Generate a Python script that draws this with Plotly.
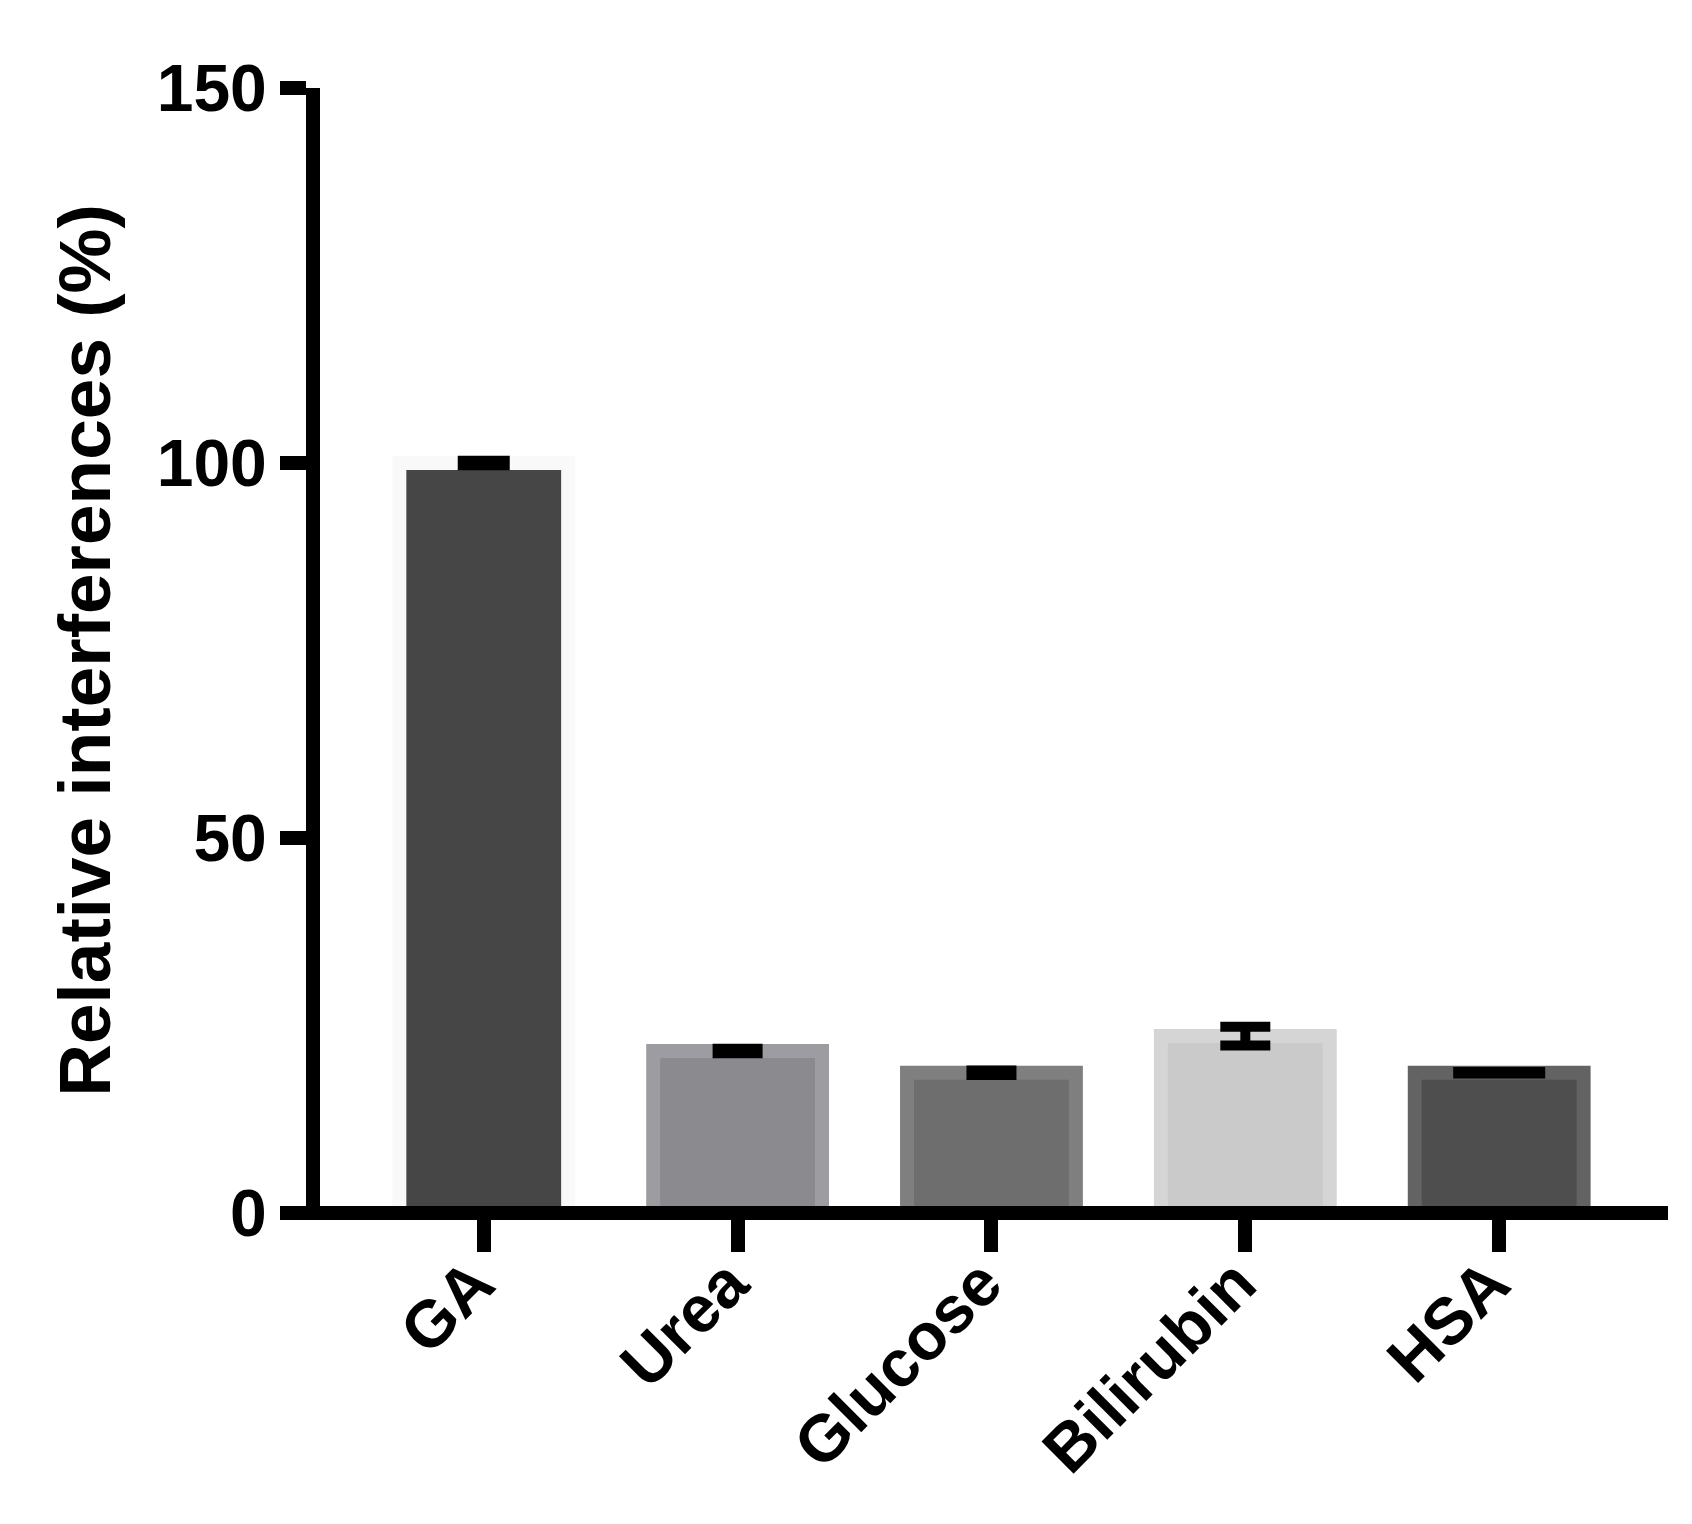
import plotly.graph_objects as go

categories = ["GA", "Urea", "Glucose", "Bilirubin", "HSA"]
values = [100.0, 21.6, 18.7, 23.6, 18.7]
errors = [0.3, 0.3, 0.3, 1.25, 0.1]
fill_colors = ["#464646", "#8b8a8f", "#6e6e6e", "#cacaca", "#4e4e4e"]
edge_colors = ["#f9f9f9", "#9d9ca1", "#7f7f7f", "#d5d5d5", "#636363"]
cap_half_widths = [26, 25, 25, 25, 46]
y_ticks = [0, 50, 100, 150]

FONT = "Liberation Sans, Arial, Helvetica, sans-serif"

fig = go.Figure()
for cat, v, e, fc, ec, cw in zip(categories, values, errors, fill_colors, edge_colors, cap_half_widths):
    fig.add_trace(go.Bar(
        x=[cat], y=[v],
        width=0.665,
        marker=dict(color=fc, line=dict(color=ec, width=14)),
        error_y=dict(type="data", array=[e], visible=True, color="black",
                     thickness=10, width=cw),
        showlegend=False,
    ))

# x-axis baseline centred on the plot bottom (y = 0), like the original
fig.add_shape(type="line", xref="paper", yref="paper", x0=-0.0105, x1=1, y0=0, y1=0,
              line=dict(color="black", width=14), layer="above")

fig.update_layout(
    width=1692, height=1524,
    barmode="overlay",
    plot_bgcolor="white", paper_bgcolor="white",
    margin=dict(l=312, r=32, t=80, b=319, autoexpand=False),
    font=dict(family=FONT, color="black"),
)
fig.update_xaxes(
    type="category", categoryorder="array", categoryarray=categories,
    range=[-0.645, 4.665],
    showline=False,
    ticks="outside", ticklen=38, tickwidth=14, tickcolor="black",
    tickangle=-45,
    ticklabelstandoff=-34, ticklabelshift=-9,
    tickfont=dict(family=FONT, size=66, weight="bold", color="black"),
    showgrid=False, zeroline=False,
)
fig.update_yaxes(
    range=[0, 150], tickvals=y_ticks, ticktext=[str(t) for t in y_ticks],
    showline=True, linewidth=14, linecolor="black",
    ticks="outside", ticklen=26, tickwidth=14, tickcolor="black",
    tickfont=dict(family=FONT, size=66, weight="bold", color="black"),
    showgrid=False, zeroline=False,
    title=dict(text="Relative interferences (%)", standoff=28,
               font=dict(family=FONT, size=73, weight="bold", color="black")),
)

fig.write_html("out.html")
